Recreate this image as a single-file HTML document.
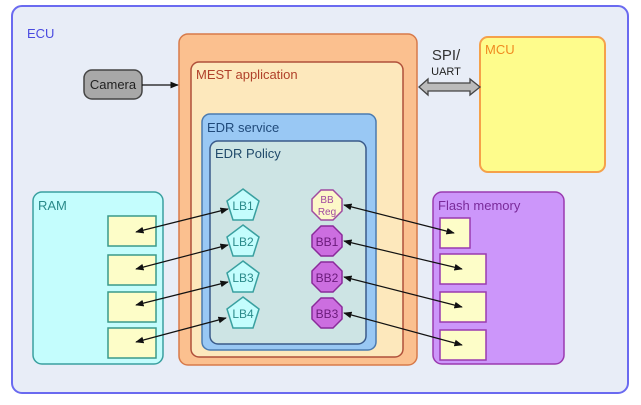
<!DOCTYPE html><html><head><style>body{margin:0;background:#fff}svg{display:block}text{font-family:"Liberation Sans",sans-serif}</style></head><body>
<svg width="641" height="405" viewBox="0 0 641 405" xmlns="http://www.w3.org/2000/svg">
<defs><marker id="a" viewBox="0 0 10 10" refX="9" refY="5" markerWidth="7" markerHeight="7" orient="auto-start-reverse"><path d="M0,1 L10,5 L0,9 z" fill="#111"/></marker></defs>
<rect x="12" y="6" width="616" height="387" rx="10" fill="#e8edf7" stroke="#6a6af0" stroke-width="2"/>
<text x="27" y="38" font-size="13" fill="#4a4ae0">ECU</text>
<rect x="179" y="34" width="238" height="331" rx="9" fill="#fbc08f" stroke="#d77a4a" stroke-width="1.5"/>
<rect x="191" y="62" width="212" height="295" rx="8" fill="#fde8bc" stroke="#b0503a" stroke-width="1.5"/>
<text x="196" y="79" font-size="13" fill="#b0402a">MEST application</text>
<rect x="202" y="114" width="174" height="236" rx="8" fill="#99c8f4" stroke="#4a7ab0" stroke-width="1.5"/>
<text x="207" y="132" font-size="13" fill="#204a7a">EDR service</text>
<rect x="210" y="141" width="156" height="203" rx="8" fill="#cde4e4" stroke="#3a5a8a" stroke-width="1.5"/>
<text x="215" y="158" font-size="13" fill="#204a6a">EDR Policy</text>
<rect x="480" y="37" width="125" height="135" rx="8" fill="#fefc8c" stroke="#f5a14a" stroke-width="2"/>
<text x="485" y="54" font-size="13" fill="#f08a20">MCU</text>
<rect x="84" y="70" width="58" height="29" rx="8" fill="#a8a8a8" stroke="#444" stroke-width="1.5"/>
<text x="113" y="89" font-size="13" fill="#222" text-anchor="middle">Camera</text>
<line x1="142" y1="85" x2="178" y2="85" stroke="#111" stroke-width="1.2" marker-end="url(#a)"/>
<path d="M419,87 L428,79 L428,83 L470,83 L470,79 L480,87 L470,95 L470,91 L428,91 L428,95 Z" fill="#bbb" stroke="#444" stroke-width="1.3"/>
<text x="446" y="60" font-size="15" fill="#333" text-anchor="middle">SPI/</text>
<text x="446" y="75" font-size="11" fill="#222" text-anchor="middle">UART</text>
<rect x="33" y="192" width="130" height="172" rx="9" fill="#c4fdfd" stroke="#3aa0a0" stroke-width="1.5"/>
<text x="38" y="210" font-size="13" fill="#2a8a8a">RAM</text>
<g fill="#fdfdc8" stroke="#3a9a8a" stroke-width="1.5">
<rect x="108" y="216" width="48" height="30"/><rect x="108" y="255" width="48" height="30"/><rect x="108" y="292" width="48" height="30"/><rect x="108" y="328" width="48" height="30"/></g>
<rect x="433" y="192" width="131" height="172" rx="9" fill="#cc96fa" stroke="#9a3ab0" stroke-width="1.5"/>
<text x="438" y="210" font-size="13" fill="#7a2a9a">Flash memory</text>
<g fill="#fdfdc8" stroke="#9a3ab0" stroke-width="1.5">
<rect x="440" y="218" width="30" height="30"/><rect x="440" y="254" width="46" height="30"/><rect x="440" y="292" width="46" height="30"/><rect x="440" y="330" width="46" height="30"/></g>
<g fill="#c4fdfd" stroke="#3aa0a0" stroke-width="1.5">
<polygon points="243,189 259,201 253,220 233,220 227,201"/>
<polygon points="243,225 259,237 253,256 233,256 227,237"/>
<polygon points="243,261 259,273 253,292 233,292 227,273"/>
<polygon points="243,297 259,309 253,328 233,328 227,309"/>
</g>
<g font-size="12" fill="#2a8a8a" text-anchor="middle"><text x="243" y="210">LB1</text><text x="243" y="246">LB2</text><text x="243" y="282">LB3</text><text x="243" y="318">LB4</text></g>
<polygon points="321,190 333,190 342,199 342,211 333,220 321,220 312,211 312,199" fill="#fdf8c8" stroke="#a04aa0" stroke-width="1.5"/>
<g fill="#cc6ee0" stroke="#8a2a9a" stroke-width="1.5">
<polygon points="321,226 333,226 342,235 342,247 333,256 321,256 312,247 312,235"/>
<polygon points="321,262 333,262 342,271 342,283 333,292 321,292 312,283 312,271"/>
<polygon points="321,298 333,298 342,307 342,319 333,328 321,328 312,319 312,307"/>
</g>
<text x="327" y="203" font-size="10" fill="#a04aa0" text-anchor="middle">BB</text>
<text x="327" y="215" font-size="10" fill="#a04aa0" text-anchor="middle">Reg</text>
<g font-size="12" fill="#6a1a7a" text-anchor="middle"><text x="327" y="246">BB1</text><text x="327" y="282">BB2</text><text x="327" y="318">BB3</text></g>
<g stroke="#111" stroke-width="1.2" marker-start="url(#a)" marker-end="url(#a)">
<line x1="228" y1="209" x2="136" y2="232"/>
<line x1="228" y1="245" x2="136" y2="269"/>
<line x1="228" y1="282" x2="136" y2="305"/>
<line x1="226" y1="318" x2="136" y2="342"/>
<line x1="344" y1="205" x2="454" y2="233"/>
<line x1="344" y1="241" x2="462" y2="269"/>
<line x1="344" y1="277" x2="462" y2="307"/>
<line x1="344" y1="313" x2="462" y2="345"/>
</g>
</svg></body></html>
